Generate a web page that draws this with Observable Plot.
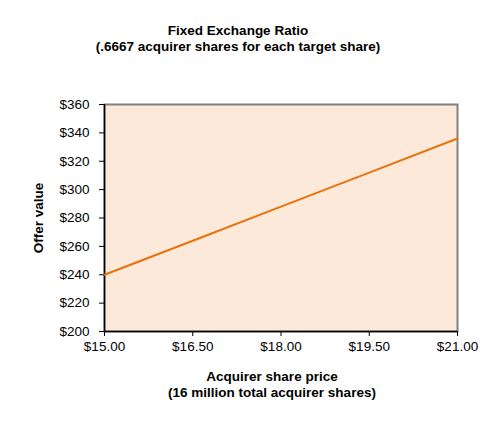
<!DOCTYPE html>
<html>
<head>
<meta charset="utf-8">
<script src="https://cdn.jsdelivr.net/npm/d3@7"></script>
<script src="https://cdn.jsdelivr.net/npm/@observablehq/plot@0.6"></script>
<style>
  body { margin: 0; background: #fff; font-family: Arial, "Liberation Sans", sans-serif; }
  #wrap { position: relative; width: 504px; height: 428px; }
  .title { position: absolute; left: 0; width: 476px; top: 23px; text-align: center;
           font-weight: bold; font-size: 13.5px; line-height: 16px; color: #000; }
  .xlabel { position: absolute; left: 100px; width: 344px; top: 369px; text-align: center;
            font-weight: bold; font-size: 13.5px; line-height: 16px; color: #000; }
  .ylabel { position: absolute; left: 38px; top: 218px; white-space: nowrap;
            font-weight: bold; font-size: 13.5px; color: #000;
            transform: translate(-50%, -50%) rotate(-90deg); }
  #plot { position: absolute; left: 0; top: 60px; }
</style>
</head>
<body>
<div id="wrap">
  <div class="title">Fixed Exchange Ratio<br>(.6667 acquirer shares for each target share)</div>
  <div id="plot"></div>
  <div class="ylabel">Offer value</div>
  <div class="xlabel">Acquirer share price<br>(16 million total acquirer shares)</div>
</div>
<script>
// acquirer share price vs. total offer value ($ millions)
const sharePrices = [15, 16.5, 18, 19.5, 21];
const offerValues = [240, 264, 288, 312, 336];
const yTicks = [200, 220, 240, 260, 280, 300, 320, 340, 360];
const xTicks = [15, 16.5, 18, 19.5, 21];

const rows = sharePrices.map((p, i) => ({ price: p, value: offerValues[i] }));

function renderOfferPlot() {
  const plotDiv = document.getElementById('plot');
  plotDiv.innerHTML = '';

  const plot = Plot.plot({
    width: 504,
    height: 368,
    marginLeft: 104,
    marginRight: 47,
    marginTop: 44,
    marginBottom: 97,
    style: { fontFamily: 'Arial, "Liberation Sans", sans-serif', fontSize: "13.5px", color: "#000", background: "transparent" },
    x: { domain: [15, 21], label: null },
    y: { domain: [200, 360], label: null },
    marks: [
      Plot.frame({ fill: "#FCE9D9", stroke: "#808080", strokeWidth: 2 }),
      Plot.ruleX([15], { stroke: "#000", strokeWidth: 1.5 }),
      Plot.ruleY([200], { stroke: "#000", strokeWidth: 1.5 }),
      Plot.axisX({ ticks: xTicks, tickFormat: d => "$" + d.toFixed(2), tickSize: 5, tickPadding: 5, label: null, fontSize: 13.5 }),
      Plot.axisY({ ticks: yTicks, tickFormat: d => "$" + d, tickSize: 5, tickPadding: 10, label: null, fontSize: 13.5 }),
      Plot.line(rows, { x: "price", y: "value", stroke: "#E8720C", strokeWidth: 2 })
    ]
  });

  plotDiv.appendChild(plot);
}

window.addEventListener('DOMContentLoaded', renderOfferPlot);
</script>
</body>
</html>
